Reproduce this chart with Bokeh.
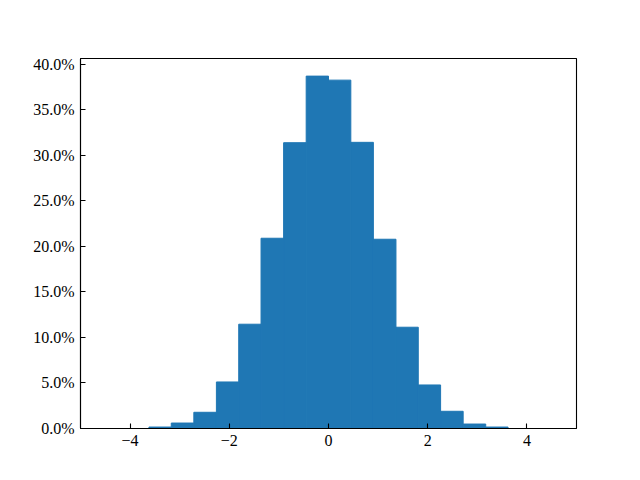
from bokeh.plotting import figure
from bokeh.models import Range1d, FixedTicker, NumeralTickFormatter, CustomJSTickFormatter, ColumnDataSource
from bokeh.embed import file_html
from bokeh.resources import INLINE

# Histogram bin edges
bin_edges = [-3.62, -3.17, -2.715, -2.26, -1.81, -1.36, -0.905, -0.45, 0.0,
             0.45, 0.905, 1.36, 1.81, 2.26, 2.715, 3.17, 3.62]
# Density values per bin (fraction)
density = [0.0016, 0.0060, 0.0178, 0.0511, 0.1145, 0.2089, 0.3138, 0.3869,
           0.3825, 0.3142, 0.2078, 0.1112, 0.0478, 0.0189, 0.0049, 0.0016]
x_ticks = [-4, -2, 0, 2, 4]
y_ticks = [0.0, 0.05, 0.10, 0.15, 0.20, 0.25, 0.30, 0.35, 0.40]

src = ColumnDataSource(dict(left=bin_edges[:-1], right=bin_edges[1:], top=density,
                            bottom=[0.0] * len(density)))

p = figure(frame_width=496, frame_height=370,
           min_border_left=80, min_border_right=56, min_border_top=58, min_border_bottom=44,
           x_range=Range1d(-5, 5), y_range=Range1d(0, max(density) * 1.05),
           output_backend="svg", toolbar_location=None)

p.quad(left="left", right="right", top="top", bottom="bottom", source=src,
       fill_color="#1f77b4", line_color="#1f77b4", line_width=1.0, line_join="miter")

p.xgrid.visible = False
p.ygrid.visible = False
p.background_fill_color = "white"
p.border_fill_color = "white"
p.outline_line_color = "black"
p.outline_line_width = 1.1
p.outline_line_alpha = 1.0

for ax in (p.xaxis[0], p.yaxis[0]):
    ax.axis_line_color = "black"
    ax.axis_line_width = 1.1
    ax.major_tick_in = 5
    ax.major_tick_out = 0
    ax.major_tick_line_width = 1.1
    ax.major_tick_line_color = "black"
    ax.minor_tick_in = 0
    ax.minor_tick_out = 0
    ax.major_label_text_font = "Liberation Serif"
    ax.major_label_text_font_size = "16px"
    ax.major_label_text_color = "black"
    ax.major_label_standoff = 6

p.xaxis[0].ticker = FixedTicker(ticks=x_ticks)
p.yaxis[0].ticker = FixedTicker(ticks=y_ticks)
p.xaxis[0].formatter = CustomJSTickFormatter(code="return tick.toString().replace('-', '\\u2212');")
p.yaxis[0].formatter = NumeralTickFormatter(format="0.0%")

open("out.html", "w").write(file_html(p, INLINE))
